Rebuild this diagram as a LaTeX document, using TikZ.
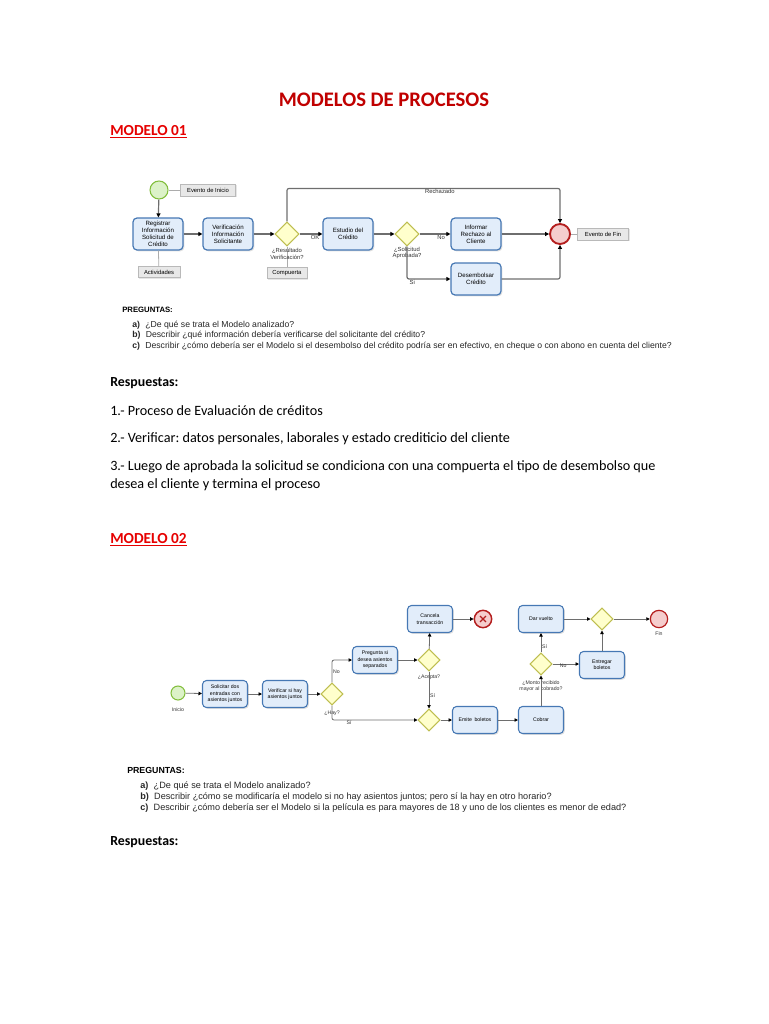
\documentclass[tikz,border=0pt]{standalone}
\usepackage{fontspec}
\setmainfont{Carlito}
\newfontfamily\arialfont{Liberation Sans}
\frenchspacing
\definecolor{titlered}{RGB}{192,0,0}
\definecolor{headred}{RGB}{230,0,0}
\definecolor{taskfill}{RGB}{226,237,250}
\definecolor{taskborder}{RGB}{70,120,180}
\definecolor{gatefill}{RGB}{255,255,204}
\definecolor{gateborder}{RGB}{190,190,80}
\definecolor{startfill}{RGB}{220,242,200}
\definecolor{startborder}{RGB}{130,190,60}
\definecolor{endfill}{RGB}{245,205,205}
\definecolor{endborder}{RGB}{180,30,30}
\definecolor{flowgray}{RGB}{110,110,110}
\definecolor{notefill}{RGB}{232,232,232}
\usetikzlibrary{arrows.meta,positioning,shapes.geometric,shadows}
\tikzset{
  task/.style={draw=taskborder,fill=taskfill,line width=0.9pt,rounded corners=3pt,
    minimum width=37.5pt,minimum height=24pt,align=center,inner sep=1pt,
    font=\arialfont\fontsize{4.6}{5.3}\selectfont,
    drop shadow={shadow xshift=1pt,shadow yshift=-1pt,opacity=0.25}},
  tasksm/.style={task,minimum width=33.75pt,minimum height=20.25pt,line width=0.8pt,
    font=\arialfont\fontsize{3.9}{4.8}\selectfont},
  gate/.style={diamond,draw=gateborder,fill=gatefill,line width=0.8pt,
    minimum size=18pt,inner sep=0pt},
  gatesm/.style={gate,minimum size=16.5pt},
  startev/.style={circle,draw=startborder,fill=startfill,line width=0.8pt,
    minimum size=13.5pt,inner sep=0pt},
  startsm/.style={startev,minimum size=10.5pt},
  endev/.style={circle,draw=endborder,fill=endfill,line width=1.4pt,
    minimum size=15pt,inner sep=0pt},
  endsm/.style={endev,minimum size=13pt,line width=1.1pt},
  note/.style={draw=gray!55,fill=notefill,minimum height=9pt,inner sep=1pt,
    font=\arialfont\fontsize{4.4}{5}\selectfont,
    drop shadow={shadow xshift=1pt,shadow yshift=-1pt,opacity=0.2}},
  lbl/.style={align=center,inner sep=0.5pt,text=black!80,
    font=\arialfont\fontsize{4.4}{4.9}\selectfont},
  lblsm/.style={lbl,font=\arialfont\fontsize{3.9}{4.6}\selectfont},
  flow/.style={draw=flowgray,line width=0.9pt,rounded corners=1.5pt,
    -{Triangle[length=3pt,width=3pt,color=black]}},
  flowsm/.style={flow,line width=0.6pt,-{Triangle[length=2.6pt,width=2.6pt,color=black]}},
  assoc/.style={draw=gray!65,line width=0.6pt},
  title/.style={font=\fontsize{15.5}{18}\selectfont\bfseries,text=titlered},
  head/.style={font=\fontsize{11.5}{13}\selectfont\bfseries,text=headred,anchor=west,inner sep=0pt},
  body/.style={font=\fontsize{10.65}{12}\selectfont,anchor=west,inner sep=0pt},
  qhead/.style={font=\arialfont\fontsize{5.8}{7}\selectfont\bfseries,anchor=west,inner sep=0pt},
  qline/.style={font=\arialfont\fontsize{6.5}{7}\selectfont,anchor=west,inner sep=0pt,text=black!85},
  qheadlg/.style={qhead,font=\arialfont\fontsize{6.6}{7}\selectfont\bfseries},
  qlinelg/.style={qline,font=\arialfont\fontsize{6.85}{7.5}\selectfont}
}

\begin{document}
\begin{tikzpicture}[x=0.75pt,y=-0.75pt]
  \useasboundingbox (0,0) rectangle (768,1024);

  % page texts
  \node[title] (tit) at (384,100) {MODELOS DE PROCESOS};
  \node[head] (m1) at (110,132) {\underline{MODELO 01}};

  % modelo 01
  \node[startev] (ini) at (159,190) {};
  \node[note,minimum width=41pt] (aIni) at (208,190) {Evento de Inicio};
  \node[task] (reg) at (158,234) {Registrar\\Información\\Solicitud de\\Crédito};
  \node[task] (ver) at (228,234) {Verificación\\Información\\Solicitante};
  \node[gate] (g1) at (287,234) {};
  \node[note,minimum width=31.5pt,minimum height=8.25pt] (aAct) at (159,272) {Actividades};
  \node[note,minimum width=30pt,minimum height=8.25pt] (aCom) at (287,273) {Compuerta};
  \node[task] (est) at (348,234) {Estudio del\\Crédito};
  \node[gate] (g2) at (407,234) {};
  \node[task] (inf) at (476,234) {Informar\\Rechazo al\\Cliente};
  \node[task] (des) at (476,279) {Desembolsar\\Crédito};
  \node[endev] (fin) at (560,234) {};
  \node[note,minimum width=38pt] (aFin) at (603,234) {Evento de Fin};

  \draw[assoc] (ini) -- (aIni);
  \draw[assoc] (reg) -- (aAct);
  \draw[assoc] (g1) -- (aCom);
  \draw[assoc] (fin) -- (aFin);
  \node[lbl] at (287,254) {¿Resultado\\Verificación?};
  \node[lbl] at (407,253) {¿Solicitud\\Aprobada?};

  \draw[flow] (ini) -- (reg);
  \draw[flow] (reg) -- (ver);
  \draw[flow] (ver) -- (g1);
  \draw[flow] (g1) -- node[lbl,below,pos=0.68]{OK} (est);
  \draw[flow] (g1.north) -- ++(0,-33) -| node[lbl,below,pos=0.28]{Rechazado} (fin.north);
  \draw[flow] (est) -- (g2);
  \draw[flow] (g2) -- node[lbl,below,pos=0.7]{No} (inf);
  \draw[flow] (inf) -- (fin);
  \draw[flow] (g2.south) |- node[lbl,below,pos=0.56]{Si} (des);
  \draw[flow] (des) -| (fin.south);

  % preguntas 01
  \node[qhead] (p1) at (122,310) {PREGUNTAS:};
  \node[qline] (p1a) at (132,325) {\textbf{a)}\hspace{4pt}¿De qué se trata el Modelo analizado?};
  \node[qline] (p1b) at (132,335) {\textbf{b)}\hspace{4pt}Describir ¿qué información debería verificarse del solicitante del crédito?};
  \node[qline] (p1c) at (132,346) {\textbf{c)}\hspace{4pt}Describir ¿cómo debería ser el Modelo si el desembolso del crédito podría ser en efectivo, en cheque o con abono en cuenta del cliente?};

  % respuestas 01
  \node[body,font=\fontsize{10.4}{12}\selectfont\bfseries] (r1) at (110,383) {Respuestas:};
  \node[body] (r1a) at (110,411) {1.- Proceso de Evaluación de créditos};
  \node[body] (r1b) at (110,439) {2.- Verificar: datos personales, laborales y estado crediticio del cliente};
  \node[body] (r1c) at (110,467) {3.- Luego de aprobada la solicitud se condiciona con una compuerta el tipo de desembolso que};
  \node[body] (r1d) at (110,485) {desea el cliente y termina el proceso};

  \node[head] (m2) at (110,540) {\underline{MODELO 02}};

  % modelo 02
  \node[startsm] (ini2) at (178,693) {};
  \node[lblsm] at (178,710) {Inicio};
  \node[tasksm] (sol) at (225,694) {Solicitar dos\\entradas con\\asientos juntos};
  \node[tasksm] (vsi) at (285,694) {Verificar si hay\\asientos juntos};
  \node[gatesm] (hay) at (332,694) {};
  \node[lblsm] at (332,713) {¿Hay?};
  \node[tasksm] (pre) at (375,660) {Pregunta si\\desea asientos\\separados};
  \node[gatesm] (acp) at (429,660) {};
  \node[lblsm] at (429,677) {¿Acepta?};
  \node[tasksm] (can) at (430,619) {Cancela\\transacción};
  \node[endsm] (cx) at (483,619) {};
  \draw[endborder,line width=1pt] ([shift={(-2.2pt,-2.2pt)}]cx.center) -- ([shift={(2.2pt,2.2pt)}]cx.center)
    ([shift={(-2.2pt,2.2pt)}]cx.center) -- ([shift={(2.2pt,-2.2pt)}]cx.center);
  \node[gatesm] (g3) at (429,720) {};
  \node[tasksm] (emi) at (475,720) {Emite\enspace boletos};
  \node[tasksm] (cob) at (541,720) {Cobrar};
  \node[gatesm] (mon) at (541,664) {};
  \node[lblsm] at (541,686) {¿Monto recibido\\mayor al cobrado?};
  \node[tasksm] (dar) at (541,619) {Dar vuelto};
  \node[tasksm] (ent) at (602,665) {Entregar\\boletos};
  \node[gatesm] (g5) at (602,619) {};
  \node[endsm,line width=0.9pt] (fin2) at (659,619) {};
  \node[lblsm] at (659,634) {Fin};

  \draw[flowsm] (ini2) -- (sol);
  \draw[flowsm] (sol) -- (vsi);
  \draw[flowsm] (vsi) -- (hay);
  \draw[flowsm] (hay.north) |- node[lblsm,right,pos=0.24]{No} (pre);
  \draw[flowsm] (pre) -- (acp);
  \draw[flowsm] (acp) -- (can);
  \draw[flowsm] (can) -- (cx);
  \draw[flowsm] (acp) -- node[lblsm,right,pos=0.66]{Sí} (g3);
  \draw[flowsm] (hay.south) |- node[lblsm,below,pos=0.6]{Sí} (g3);
  \draw[flowsm] (g3) -- (emi);
  \draw[flowsm] (emi) -- (cob);
  \draw[flowsm] (cob) -- (mon);
  \draw[flowsm] (mon) -- node[lblsm,right,pos=0.3]{Sí} (dar);
  \draw[flowsm] (mon.east) -- node[lblsm,below=-0.5pt,pos=0.4]{No} (ent.west |- mon.east);
  \draw[flowsm] (dar) -- (g5);
  \draw[flowsm] (ent) -- (g5);
  \draw[flowsm] (g5) -- (fin2);

  % preguntas 02
  \node[qheadlg] (p2) at (127,770) {PREGUNTAS:};
  \node[qlinelg] (p2a) at (140,786) {\textbf{a)}\hspace{4pt}¿De qué se trata el Modelo analizado?};
  \node[qlinelg] (p2b) at (140,797) {\textbf{b)}\hspace{4pt}Describir ¿cómo se modificaría el modelo si no hay asientos juntos; pero sí la hay en otro horario?};
  \node[qlinelg] (p2c) at (140,808) {\textbf{c)}\hspace{4pt}Describir ¿cómo debería ser el Modelo si la película es para mayores de 18 y uno de los clientes es menor de edad?};

  \node[body,font=\fontsize{10.4}{12}\selectfont\bfseries] (r2) at (110,842) {Respuestas:};
\end{tikzpicture}
\end{document}
